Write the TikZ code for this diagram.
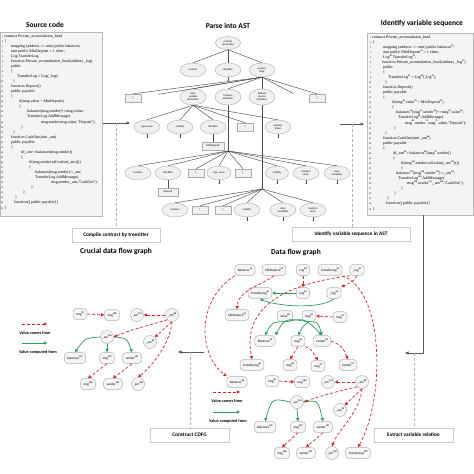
\documentclass[tikz,border=0pt]{standalone}
\usepackage{fontspec}
\setmainfont{Carlito}
\newfontfamily\codefont{Liberation Serif}
\usetikzlibrary{shapes.geometric,arrows.meta}
\definecolor{dred}{HTML}{D9272E}
\definecolor{dgreen}{HTML}{2E9E5E}
\definecolor{pline}{HTML}{595959}
\newcommand\lnum[1]{\llap{\fontsize{2.4}{2.4}\selectfont #1\hspace{0.8pt}}}
\newcommand\ind[1]{\hspace*{#1pt}}
\newcommand\vs[1]{\raisebox{2.1pt}{\fontsize{2.2}{2.2}\selectfont\bfseries #1}}
\newcommand\sn[1]{\raisebox{2.2pt}{\fontsize{2.3}{2.3}\selectfont\bfseries #1}}
\tikzset{
 ttl/.style={font=\fontsize{7.5}{9}\selectfont\bfseries, inner sep=0pt},
 stepbox/.style={draw=gray!40, fill=white, line width=0.6pt, font=\fontsize{5.3}{6}\selectfont\bfseries, minimum height=14pt, inner sep=0pt},
 codebox/.style={draw=gray!55, fill=gray!9, line width=0.6pt, anchor=north west, inner sep=0pt},
 code/.style={font={\codefont\fontsize{4}{5.06}\selectfont}, align=left, inner sep=0pt, anchor=north west},
 ae/.style={ellipse, draw=gray!65, fill=gray!12, line width=0.4pt, minimum width=26pt, minimum height=14pt, inner sep=0pt, font=\fontsize{2.6}{2.9}\selectfont, align=center},
 ar/.style={rectangle, draw=gray!65, fill=gray!12, line width=0.4pt, minimum width=16pt, minimum height=8pt, inner sep=0pt, font=\fontsize{2.8}{3}\selectfont},
 adots/.style={font=\fontsize{3}{3}\selectfont, inner sep=0pt},
 aline/.style={draw=black!70, line width=0.45pt},
 dn/.style={rounded corners=3.5pt, draw=gray!60, fill=gray!8, line width=0.5pt, minimum height=11pt, inner xsep=3pt, inner ysep=1pt, font=\fontsize{3.3}{3.5}\selectfont},
 dc/.style={circle, draw=gray!60, fill=gray!8, line width=0.5pt, minimum size=13pt, inner sep=0pt, font=\fontsize{3.3}{3.5}\selectfont},
 rd/.style={draw=dred, line width=0.7pt, dash pattern=on 3pt off 2pt, -{Triangle[length=3.2pt,width=3.2pt]}},
 gr/.style={draw=dgreen, line width=0.7pt, -{Triangle[length=3.2pt,width=3.2pt]}},
 parrow/.style={draw=pline, line width=0.6pt, -{Triangle[length=3.5pt,width=3pt]}},
 pline/.style={draw=pline, line width=0.6pt},
 pdash/.style={draw=gray!60, line width=0.6pt, dash pattern=on 3pt off 2pt},
 lgt/.style={font=\fontsize{4.2}{5}\selectfont\bfseries, inner sep=0pt}
}
\begin{document}
\begin{tikzpicture}[x=1pt,y=-1pt]
\useasboundingbox (0,0) rectangle (474,474);
\fill[white] (0,0) rectangle (474,474);

% ---------- titles ----------
\node[ttl] (t1) at (45,25) {Source code};
\node[ttl] (t2) at (228,26) {Parse into AST};
\node[ttl] (t3) at (422,23) {Identify variable sequence};
\node[ttl] (t4) at (116,252) {Crucial data flow graph};
\node[ttl] (t5) at (296,253) {Data flow graph};

% ---------- source code ----------
\node[codebox, minimum width=102pt, minimum height=184pt] (sbox) at (0,32) {};
\node[code] (scode) at (4,34) {%
\lnum{1}contract Private\_accumulation\_fund\\
\lnum{2}\ind{0.5}\{\\
\lnum{3}\ind{7}mapping (address => uint) public balances;\\
\lnum{4}\ind{7}uint public MinDeposit = 1 ether;\\
\lnum{5}\ind{7}Log TransferLog;\\
\lnum{6}\ind{7}function Private\_accumulation\_fund(address \_log)\\
\lnum{7}\ind{7}public\\
\lnum{8}\ind{7}\{\\
\lnum{9}\ind{13}TransferLog = Log(\_log);\\
\lnum{10}\ind{9}\}\\
\lnum{11}\ind{7}function Deposit()\\
\lnum{12}\ind{7}public payable\\
\lnum{13}\ind{7}\{\\
\lnum{14}\ind{15}if(msg.value > MinDeposit)\\
\lnum{15}\ind{15}\{\\
\lnum{16}\ind{23}balances[msg.sender]+=msg.value;\\
\lnum{17}\ind{23}TransferLog.AddMessage(\\
\lnum{18}\ind{37}msg.sender,msg.value,"Deposit");\\
\lnum{19}\ind{17}\}\\
\lnum{20}\ind{9}\}\\
\lnum{21}\ind{7}function CashOut(uint \_am)\\
\lnum{22}\ind{7}public payable\\
\lnum{23}\ind{7}\{\\
\lnum{24}\ind{17}if(\_am<=balances[msg.sender])\\
\lnum{25}\ind{17}\{\\
\lnum{26}\ind{25}if(msg.sender.call.value(\_am)())\\
\lnum{27}\ind{25}\{\\
\lnum{28}\ind{31}balances[msg.sender]-=\_am;\\
\lnum{29}\ind{31}TransferLog.AddMessage(\\
\lnum{30}\ind{47}msg.sender,\_am,"CashOut");\\
\lnum{31}\ind{27}\}\\
\lnum{32}\ind{19}\}\\
\lnum{33}\ind{11}\}\\
\lnum{34}\ind{10}function() public payable\{\}\\
\lnum{35}\ind{0.5}\}};

% ---------- identify variable sequence ----------
\node[codebox, minimum width=106pt, minimum height=182pt] (ibox) at (367,33) {};
\node[code] (icode) at (372,35) {%
\lnum{1}contract Private\_accumulation\_fund\\
\lnum{2}\ind{0.5}\{\\
\lnum{3}\ind{11}mapping (address => uint) public balances\vs{14};\\
\lnum{4}\ind{11}uint public MinDeposit\vs{21} = 1 ether;\\
\lnum{5}\ind{11}Log\vs{28} TransferLog\vs{32};\\
\lnum{6}\ind{10}function Private\_accumulation\_fund(address \_log\vs{37})\\
\lnum{7}\ind{11}public\\
\lnum{8}\ind{11}\{\\
\lnum{9}\ind{16}TransferLog\vs{42} = Log\vs{44}(\_log\vs{45});\\
\lnum{10}\ind{13}\}\\
\lnum{11}\ind{11}function Deposit()\\
\lnum{12}\ind{11}public payable\\
\lnum{13}\ind{11}\{\\
\lnum{14}\ind{20}if(msg\vs{49}.value\vs{50} > MinDeposit\vs{52})\\
\lnum{15}\ind{20}\{\\
\lnum{16}\ind{24}balances\vs{54}[msg\vs{55}.sender\vs{58}]+=msg\vs{61}.value\vs{60};\\
\lnum{17}\ind{26}TransferLog\vs{66}.AddMessage(\\
\lnum{18}\ind{33}msg\vs{69}.sender\vs{74},msg\vs{72}.value,"Deposit");\\
\lnum{19}\ind{22}\}\\
\lnum{20}\ind{13}\}\\
\lnum{21}\ind{11}function CashOut(uint \_am\vs{86})\\
\lnum{22}\ind{11}public payable\\
\lnum{23}\ind{11}\{\\
\lnum{24}\ind{21}if(\_am\vs{92}<=balances\vs{96}[msg\vs{97}.sender])\\
\lnum{25}\ind{21}\{\\
\lnum{26}\ind{29}if(msg\vs{100}.sender.call.value(\_am\vs{113})())\\
\lnum{27}\ind{29}\{\\
\lnum{28}\ind{24}balances\vs{117}[msg\vs{119}.sender\vs{121}]-=\_am\vs{114};\\
\lnum{29}\ind{26}TransferLog\vs{139}.AddMessage(\\
\lnum{30}\ind{35}msg\vs{128}.sender\vs{131},\_am\vs{138},"CashOut");\\
\lnum{31}\ind{29}\}\\
\lnum{32}\ind{22}\}\\
\lnum{33}\ind{15}\}\\
\lnum{34}\ind{14}function() public payable\{\}\\
\lnum{35}\ind{0.5}\}};

% ---------- AST ----------
\node[ae, minimum width=25pt, minimum height=13pt] (cd) at (228,43) {contract\\declaration};
\node[ae] (ct) at (193,70) {contract};
\node[ae] (idf) at (228,70) {identifier};
\node[ae] (cb) at (262,70) {contract\\body};
\foreach \c in {ct,idf,cb} \draw[aline] (cd.south) -- (\c.north);

\node[ar] (lb1) at (133,98) {[};
\node[adots] (dt1) at (159,95) {...};
\node[ae, minimum height=16pt] (svd) at (193,97) {state\\variable\\declaration};
\node[ae, minimum height=16pt] (fd) at (228,97) {function\\definition};
\node[ae, minimum height=16pt] (frd) at (262,97) {fallback\\receive\\definition};
\node[adots] (dt2) at (293,94) {...};
\node[ar] (rb1) at (317,98) {]};
\foreach \c in {lb1,dt1,svd,fd,frd,dt2,rb1} \draw[aline] (cb.south) -- (\c.north);

\node[ae] (tn) at (147,127) {type name};
\node[ae] (vis1) at (180,127) {visibility};
\node[ae] (id2) at (213,127) {identifier};
\node[ar] (eq) at (245,127) {=};
\node[ae] (nl) at (278,127) {number\\literal};
\foreach \c in {tn,vis1,id2,eq,nl} \draw[aline] (svd.south) -- (\c.north);
\node[ar, minimum width=22pt] (mdp) at (213,146) {MinDeposit};
\draw[aline] (id2.south) -- (mdp.north);

\coordinate (f5) at (228,151);
\draw[aline] (fd.south) -- (f5);
\node[ae] (fn1) at (138,173) {function};
\node[ae] (id3) at (168,173) {identifier};
\node[ar] (lp1) at (196,173) {(};
\node[ae, minimum width=24pt] (tyn) at (219,173) {type\_name};
\node[ar] (rp1) at (243,173) {)};
\node[ae, minimum width=23pt] (vis2) at (277,173) {visibility};
\node[ae] (fb1) at (306,173) {function\\body};
\node[ae] (sm1) at (337,173) {state\\mutability};
\foreach \c in {fn1,id3,lp1,tyn,rp1,vis2,fb1,sm1} \draw[aline] (f5) -- (\c.north);
\node[ar, minimum width=20pt] (dep) at (168,192) {Deposit};
\draw[aline] (id3.south) -- (dep.north);

\coordinate (f6) at (262,189);
\draw[aline] (frd.south) -- (f6);
\node[ae] (fn2) at (175,210) {function};
\node[ar] (lp2) at (200,210) {(};
\node[ar] (rp2) at (223,210) {)};
\node[ae] (vis3) at (247,210) {visibility};
\node[ae] (sm2) at (283,210) {state\\mutability};
\node[ae] (fb2) at (313,210) {function\\body};
\foreach \c in {fn2,lp2,rp2,vis3,sm2,fb2} \draw[aline] (f6) -- (\c.north);

\foreach \n in {idf,tn,vis1,nl,tyn,vis2,fb1,sm1,vis3,sm2,fb2}
  \draw[aline] (\n.south) -- ++(0,3.5) node[adots, below=0.4pt] (dd\n) {...};

% ---------- process connectors ----------
\node[stepbox, minimum width=88pt] (s1) at (116,235) {Compile contract by treesitter};
\node[stepbox, minimum width=118pt] (s2) at (351,234) {Identify variable sequence in AST};
\node[stepbox, minimum width=79pt] (s3) at (413.5,435) {Extract variable relation};
\node[stepbox, minimum width=79pt] (s4) at (189.5,435) {Construct CDFG};

\coordinate (p1a) at (103,123); \coordinate (p1b) at (130,123); \coordinate (p1c) at (116,123);
\draw[parrow] (p1a) -- (p1b);
\draw[pdash] (p1c) -- (s1.north);
\coordinate (p2a) at (340,124); \coordinate (p2b) at (364,124); \coordinate (p2c) at (352,124);
\draw[parrow] (p2a) -- (p2b);
\draw[pdash] (p2c) -- (s2.north -| p2c);
\coordinate (p3a) at (423,215); \coordinate (p3b) at (405,353); \coordinate (p3c) at (414,353);
\draw[parrow] (p3a) |- (p3b);
\draw[pdash] (p3c) -- (s3.north -| p3c);
\coordinate (p4a) at (204,352); \coordinate (p4b) at (178,352); \coordinate (p4c) at (190,352);
\draw[parrow] (p4a) -- (p4b);
\draw[pdash] (p4c) -- (s4.north -| p4c);

% ---------- data flow graph ----------
\node[dn] (a14) at (245,270) {Balances\sn{14}};
\node[dn] (a21) at (274,270) {MinDeposit\sn{21}};
\node[dn] (a28) at (303,270) {Log\sn{28}};
\node[dn] (a32) at (330,270) {TransferLog\sn{32}};
\node[dn] (a37) at (357,270) {\_log\sn{37}};
\node[dn] (b42) at (260,293) {TransferLog\sn{42}};
\node[dn] (b44) at (303,293) {Log\sn{44}};
\node[dn] (b45) at (334,293) {\_log\sn{45}};
\node[dn] (c52) at (237,315) {MinDeposit\sn{52}};
\node[dn] (c60) at (285,316) {value\sn{60}};
\node[dn] (c61) at (309,316) {msg\sn{61}};
\node[dn] (c67) at (340,317) {msg\sn{67}};
\node[dn] (d54) at (265,341) {Balances\sn{54}};
\node[dn] (d55) at (298,341) {msg\sn{55}};
\node[dn] (d58) at (322,341) {sender\sn{58}};
\node[dn] (e66) at (252,365) {TransferLog\sn{66}};
\node[dn] (e69) at (290,365) {msg\sn{69}};
\node[dn] (e72) at (318,366) {msg\sn{72}};
\node[dn] (e74) at (348,365) {sender\sn{74}};
\node[dn] (f96) at (237,382) {Balances\sn{96}};
\node[dn] (f97) at (272,381) {msg\sn{97}};
\node[dn] (f100) at (302,382) {msg\sn{100}};
\node[dc] (f113) at (328,382) {\_am\sn{113}};
\node[dc] (f86) at (362,382) {\_am\sn{86}};
\node[dc] (g114) at (297,402) {\_am\sn{114}};
\node[dc] (g92) at (340,410) {\_am\sn{92}};
\node[dn] (h117) at (265,427) {Balances\sn{117}};
\node[dn] (h119) at (298,427) {msg\sn{119}};
\node[dn] (h121) at (323,427) {sender\sn{121}};
\node[dn] (i128) at (282,453) {msg\sn{128}};
\node[dn] (i131) at (306,453) {sender\sn{131}};
\node[dc] (i138) at (332,453) {\_am\sn{138}};
\node[dn] (i139) at (358,453) {TransferLog\sn{139}};

\draw[rd] (a14.south west) .. controls (196,300) and (198,355) .. (f96.north west);
\draw[rd] (a21.south) .. controls (262,285) and (238,290) .. (c52.north);
\draw[rd] (a28.south) -- (b44.north);
\draw[rd] (a37.south) .. controls (355,282) and (345,285) .. (b45.north east);
\draw[rd] (a37.south west) .. controls (300,282) and (240,300) .. (e66.north);
\draw[rd] (a32.south east) .. controls (385,290) and (385,400) .. (i139.north);
\draw[rd] (c67.west) -- (c61.east);
\draw[rd] (d55.south) -- (e69.north);
\draw[rd] (d55.south east) .. controls (310,348) .. (e72.north);
\draw[rd] (d58.east) .. controls (342,346) .. (e74.north);
\draw[rd] (f97.east) -- (f100.west);
\draw[rd] (f86.west) -- (f113.east);
\draw[rd] (f86.south west) .. controls (335,392) and (320,396) .. (g114.east);
\draw[rd] (f86.south) -- (g92.north east);
\draw[rd] (f86.south) .. controls (360,412) and (338,430) .. (i138.north);
\draw[rd] (h119.south) -- (i128.north);
\draw[rd] (h121.south) -- (i131.north);

\draw[gr] (b44.west) -- (b42.east);
\draw[gr] (b45.south) .. controls (320,310) and (275,306) .. (b42.south);
\draw[gr] (c60.south) .. controls (272,322) .. (d54.north);
\draw[gr] (c60.south) .. controls (305,318) .. (d58.north);
\draw[gr] (c61.south) .. controls (285,318) .. (d54.north east);
\draw[gr] (c61.south) .. controls (303,326) .. (d55.north);
\draw[gr] (c61.south) .. controls (318,322) .. (d58.north);
\draw[gr] (g114.west) .. controls (272,398) .. (h117.north);
\draw[gr] (g114.south) -- (h119.north);
\draw[gr] (g114.east) .. controls (318,400) .. (h121.north);

\coordinate (lr1) at (213,392); \coordinate (lr2) at (240,392);
\draw[rd] (lr1) -- (lr2);
\node[lgt] (lt1) at (227,401) {Value comes from};
\coordinate (lg1) at (213,412); \coordinate (lg2) at (240,412);
\draw[gr] (lg1) -- (lg2);
\node[lgt] (lt2) at (228,421) {Value computed from};

% ---------- crucial data flow graph ----------
\node[dn] (k97) at (80,314) {msg\sn{97}};
\node[dn] (k100) at (112,315) {msg\sn{100}};
\node[dc] (k113) at (137,315) {\_am\sn{113}};
\node[dc] (k86) at (172,315) {\_am\sn{86}};
\node[dc] (k114) at (107,337) {\_am\sn{114}};
\node[dc] (k92) at (150,342) {\_am\sn{92}};
\node[dn] (k117) at (75,358) {balances\sn{117}};
\node[dn] (k119) at (107,358) {msg\sn{119}};
\node[dn] (k121) at (132,358) {sender\sn{121}};
\node[dn] (k128) at (88,384) {msg\sn{128}};
\node[dn] (k131) at (113,384) {sender\sn{131}};
\node[dc] (k138) at (138,384) {\_am\sn{138}};

\draw[rd] (k97.east) -- (k100.west);
\draw[rd] (k86.west) -- (k113.east);
\draw[rd] (k86.south west) .. controls (150,325) and (130,330) .. (k114.east);
\draw[rd] (k86.south) .. controls (165,328) .. (k92.north east);
\draw[rd] (k86.south) .. controls (170,345) and (150,368) .. (k138.north);
\draw[gr] (k114.west) .. controls (85,338) .. (k117.north);
\draw[gr] (k114.south) -- (k119.north);
\draw[gr] (k114.east) .. controls (127,338) .. (k121.north);
\draw[rd] (k119.south) -- (k128.north);
\draw[rd] (k121.south) -- (k131.north);

\coordinate (kr1) at (22,324); \coordinate (kr2) at (47,324);
\draw[rd] (kr1) -- (kr2);
\node[lgt] (kt1) at (35,333) {Value comes from};
\coordinate (kg1) at (22,343); \coordinate (kg2) at (47,343);
\draw[gr] (kg1) -- (kg2);
\node[lgt] (kt2) at (38,352) {Value computed from};
\end{tikzpicture}
\end{document}
